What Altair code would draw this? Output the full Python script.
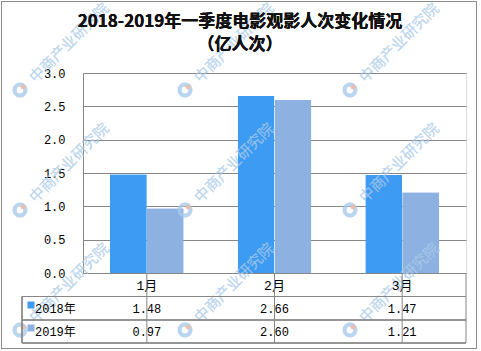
import altair as alt
import pandas as pd

months = ["1月", "2月", "3月"]
series = ["2018年", "2019年"]
v2018 = [1.48, 2.66, 1.47]
v2019 = [0.97, 2.60, 1.21]
colors = ["#3E9BF4", "#8DB2E2"]
title_lines = ["2018-2019年一季度电影观影人次变化情况", "（亿人次）"]
watermark = "中商产业研究院"
wm_x = [20, 185, 350]
wm_y = [90, 210, 330]

rows = []
for m, a, b in zip(months, v2018, v2019):
    rows.append({"month": m, "series": series[0], "value": a})
    rows.append({"month": m, "series": series[1], "value": b})
df = pd.DataFrame(rows)
mdf = pd.DataFrame({"month": months})
sdf = pd.DataFrame({"series": series})

W, H = 383, 200
OX, OY = 83, 73
CJK = "Liberation Mono, Noto Sans CJK SC"
GRID = "#878787"

xs = alt.Scale(domain=months, paddingInner=0, paddingOuter=0)
cs = alt.Scale(domain=series, range=colors)

bars = alt.Chart(df).mark_bar(cornerRadiusTopLeft=1, cornerRadiusTopRight=1).encode(
    x=alt.X("month:N", scale=xs, axis=None, sort=months),
    xOffset=alt.XOffset("series:N", scale=alt.Scale(domain=series, paddingInner=0, paddingOuter=0.73)),
    y=alt.Y("value:Q", scale=alt.Scale(domain=[0, 3]),
            axis=alt.Axis(values=[0, 0.5, 1, 1.5, 2, 2.5, 3], format=".1f", title=None,
                          ticks=False, labelPadding=18, labelFont="Liberation Mono",
                          labelFontSize=12, labelColor="#000", domainColor=GRID,
                          gridColor=GRID, gridOpacity=1)),
    color=alt.Color("series:N", scale=cs, legend=None),
)

# faint watermark, drawn above the bars but below the texts
wm_layers = []
for wx in wm_x:
    for wy in wm_y:
        wm_layers.append(alt.Chart(mdf).mark_text(
            font="Noto Sans CJK SC", fontSize=15, angle=315, align="left",
            baseline="middle", color="#a9cbea", opacity=0.4).encode(
            x=alt.value(wx + 12 - OX), y=alt.value(wy - 10 - OY), text=alt.value(watermark)))
        wm_layers.append(alt.Chart(mdf).mark_point(
            shape="circle", size=120, strokeWidth=4, color="#a9cbea", opacity=0.4, filled=False).encode(
            x=alt.value(wx - OX), y=alt.value(wy - OY)))
        wm_layers.append(alt.Chart(mdf).mark_point(
            shape="circle", size=20, color="#f3b9a0", opacity=0.5, filled=True).encode(
            x=alt.value(wx + 3 - OX), y=alt.value(wy - 3 - OY)))

layers = [bars] + wm_layers

month_text = alt.Chart(mdf).mark_text(font=CJK, fontSize=13, baseline="middle", align="center", color="#000").encode(
    x=alt.X("month:N", scale=xs, bandPosition=0.5, sort=months),
    y=alt.value(213),
    text="month:N",
)
layers.append(month_text)

row_y = {series[0]: 236, series[1]: 259}
for s in series:
    t = alt.Chart(df).transform_filter(alt.datum.series == s).mark_text(
        font="Liberation Mono", fontSize=12, baseline="middle", align="center", color="#000").encode(
        x=alt.X("month:N", scale=xs, bandPosition=0.5, sort=months),
        y=alt.value(row_y[s]),
        text=alt.Text("value:Q", format=".2f"),
    )
    lab = alt.Chart(sdf).transform_filter(alt.datum.series == s).mark_text(
        font=CJK, fontSize=12, baseline="middle", align="left", color="#000").encode(
        x=alt.value(-48), y=alt.value(row_y[s]), text="series:N")
    sq = alt.Chart(sdf).transform_filter(alt.datum.series == s).mark_square(size=49, opacity=1, filled=True).encode(
        x=alt.value(-52), y=alt.value(row_y[s] - 4),
        color=alt.Color("series:N", scale=cs, legend=None))
    layers += [t, lab, sq]

vlines = alt.Chart(mdf).mark_rule(color=GRID).encode(
    x=alt.X("month:N", scale=xs, sort=months), y=alt.value(200), y2=alt.value(270))
vend = alt.Chart(mdf).transform_filter(alt.datum.month == months[-1]).mark_rule(color=GRID).encode(
    x=alt.X("month:N", scale=xs, bandPosition=1, sort=months), y=alt.value(200), y2=alt.value(270))
hlines = []
for yy in [223.5, 247, 270]:
    hlines.append(alt.Chart(mdf).mark_rule(color=GRID).encode(
        x=alt.value(-61), x2=alt.value(W), y=alt.value(yy)))
vleft = alt.Chart(mdf).mark_rule(color=GRID).encode(x=alt.value(-61), y=alt.value(223.5), y2=alt.value(270))

border = alt.Chart(mdf).mark_rect(filled=False, stroke="#8c8c8c", strokeWidth=1).encode(
    x=alt.value(-81.5), x2=alt.value(393.5), y=alt.value(-71.5), y2=alt.value(275.5))

tstyle = dict(font="Noto Sans CJK SC", fontSize=17, fontWeight="bold", align="center",
              baseline="middle", color="#111")
t1 = alt.Chart(mdf).mark_text(**tstyle).encode(
    x=alt.value(157), y=alt.value(-51), text=alt.value(title_lines[0]))
t2 = alt.Chart(mdf).mark_text(**tstyle).encode(
    x=alt.value(157), y=alt.value(-28), text=alt.value(title_lines[1]))

layers += [vlines, vend, vleft, border, t1, t2] + hlines

chart = alt.layer(*layers).properties(
    width=W, height=H,
    autosize=alt.AutoSizeParams(type="none"),
    padding={"left": OX, "top": OY, "right": 15, "bottom": 78},
).configure_view(stroke=None).configure(background="white")

chart.save("out.html", embed_options={"renderer": "svg", "actions": False})
